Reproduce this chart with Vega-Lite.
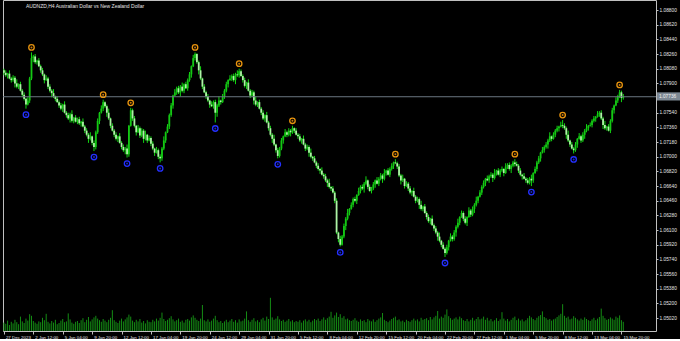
{
"$schema":"https://vega.github.io/schema/vega-lite/v6.json",
"width":653,"height":331,
"padding":{"left":2,"top":0,"right":0,"bottom":0},
"background":"#000000",
"config":{"view":{"stroke":"#c0c0c0","strokeWidth":1},"axis":{"grid":false,"title":null,"domain":false,"tickColor":"#c0c0c0","labelColor":"#e6e6e6","labelFont":"Liberation Sans","labelFontSize":4.8,"tickSize":2,"labelPadding":1,"labelOverlap":false,"labelSeparation":0,"tickCount":60}},
"datasets":{
"bars":[
{"i":0,"o":1.0806,"h":1.0808,"l":1.0800,"c":1.0803,"v":2100},{"i":1,"o":1.0803,"h":1.0806,"l":1.0798,"c":1.0800,"v":1800},{"i":2,"o":1.0800,"h":1.0803,"l":1.0796,"c":1.0802,"v":2600},{"i":3,"o":1.0802,"h":1.0806,"l":1.0795,"c":1.0796,"v":1500},{"i":4,"o":1.0796,"h":1.0798,"l":1.0791,"c":1.0794,"v":2300},{"i":5,"o":1.0794,"h":1.0800,"l":1.0792,"c":1.0797,"v":1900},{"i":6,"o":1.0797,"h":1.0799,"l":1.0785,"c":1.0790,"v":2800},{"i":7,"o":1.0790,"h":1.0795,"l":1.0784,"c":1.0786,"v":2200},{"i":8,"o":1.0786,"h":1.0790,"l":1.0783,"c":1.0789,"v":1700},{"i":9,"o":1.0789,"h":1.0792,"l":1.0780,"c":1.0781,"v":3600},
{"i":10,"o":1.0781,"h":1.0783,"l":1.0773,"c":1.0776,"v":2400},{"i":11,"o":1.0776,"h":1.0779,"l":1.0769,"c":1.0771,"v":2000},{"i":12,"o":1.0771,"h":1.0772,"l":1.0759,"c":1.0764,"v":3100},{"i":13,"o":1.0764,"h":1.0773,"l":1.0763,"c":1.0769,"v":2600},{"i":14,"o":1.0769,"h":1.0798,"l":1.0766,"c":1.0796,"v":4200},{"i":15,"o":1.0796,"h":1.0828,"l":1.0794,"c":1.0821,"v":3800},{"i":16,"o":1.0821,"h":1.0825,"l":1.0816,"c":1.0823,"v":2500},{"i":17,"o":1.0823,"h":1.0826,"l":1.0814,"c":1.0816,"v":2100},{"i":18,"o":1.0816,"h":1.0819,"l":1.0813,"c":1.0818,"v":1800},{"i":19,"o":1.0818,"h":1.0821,"l":1.0810,"c":1.0811,"v":2400},
{"i":20,"o":1.0811,"h":1.0813,"l":1.0803,"c":1.0806,"v":2200},{"i":21,"o":1.0806,"h":1.0809,"l":1.0799,"c":1.0801,"v":3300},{"i":22,"o":1.0801,"h":1.0802,"l":1.0790,"c":1.0794,"v":2700},{"i":23,"o":1.0794,"h":1.0800,"l":1.0793,"c":1.0796,"v":4300},{"i":24,"o":1.0796,"h":1.0798,"l":1.0783,"c":1.0786,"v":2300},{"i":25,"o":1.0786,"h":1.0789,"l":1.0779,"c":1.0781,"v":1900},{"i":26,"o":1.0781,"h":1.0783,"l":1.0773,"c":1.0778,"v":2500},{"i":27,"o":1.0778,"h":1.0783,"l":1.0772,"c":1.0774,"v":2100},{"i":28,"o":1.0774,"h":1.0775,"l":1.0768,"c":1.0771,"v":2800},{"i":29,"o":1.0771,"h":1.0774,"l":1.0766,"c":1.0767,"v":1700},
{"i":30,"o":1.0767,"h":1.0769,"l":1.0760,"c":1.0763,"v":2000},{"i":31,"o":1.0763,"h":1.0766,"l":1.0757,"c":1.0759,"v":2600},{"i":32,"o":1.0759,"h":1.0765,"l":1.0755,"c":1.0764,"v":3000},{"i":33,"o":1.0764,"h":1.0768,"l":1.0753,"c":1.0754,"v":2200},{"i":34,"o":1.0754,"h":1.0756,"l":1.0748,"c":1.0751,"v":2400},{"i":35,"o":1.0751,"h":1.0754,"l":1.0745,"c":1.0747,"v":4400},{"i":36,"o":1.0747,"h":1.0754,"l":1.0742,"c":1.0752,"v":2900},{"i":37,"o":1.0752,"h":1.0757,"l":1.0742,"c":1.0744,"v":2100},{"i":38,"o":1.0744,"h":1.0749,"l":1.0741,"c":1.0748,"v":1800},{"i":39,"o":1.0748,"h":1.0751,"l":1.0742,"c":1.0743,"v":2300},
{"i":40,"o":1.0743,"h":1.0748,"l":1.0740,"c":1.0746,"v":2500},{"i":41,"o":1.0746,"h":1.0749,"l":1.0739,"c":1.0741,"v":2000},{"i":42,"o":1.0741,"h":1.0744,"l":1.0737,"c":1.0743,"v":2700},{"i":43,"o":1.0743,"h":1.0747,"l":1.0736,"c":1.0737,"v":3200},{"i":44,"o":1.0737,"h":1.0739,"l":1.0729,"c":1.0732,"v":2200},{"i":45,"o":1.0732,"h":1.0735,"l":1.0725,"c":1.0727,"v":2800},{"i":46,"o":1.0727,"h":1.0729,"l":1.0717,"c":1.0722,"v":3500},{"i":47,"o":1.0722,"h":1.0730,"l":1.0720,"c":1.0725,"v":2400},{"i":48,"o":1.0725,"h":1.0726,"l":1.0714,"c":1.0717,"v":2900},{"i":49,"o":1.0717,"h":1.0720,"l":1.0707,"c":1.0712,"v":3400},
{"i":50,"o":1.0712,"h":1.0732,"l":1.0709,"c":1.0730,"v":3800},{"i":51,"o":1.0730,"h":1.0747,"l":1.0728,"c":1.0744,"v":3100},{"i":52,"o":1.0744,"h":1.0755,"l":1.0740,"c":1.0754,"v":2700},{"i":53,"o":1.0754,"h":1.0763,"l":1.0753,"c":1.0759,"v":2300},{"i":54,"o":1.0759,"h":1.0770,"l":1.0756,"c":1.0767,"v":3000},{"i":55,"o":1.0767,"h":1.0768,"l":1.0760,"c":1.0762,"v":2600},{"i":56,"o":1.0762,"h":1.0764,"l":1.0749,"c":1.0754,"v":2200},{"i":57,"o":1.0754,"h":1.0759,"l":1.0745,"c":1.0747,"v":2800},{"i":58,"o":1.0747,"h":1.0748,"l":1.0735,"c":1.0738,"v":3300},{"i":59,"o":1.0738,"h":1.0741,"l":1.0731,"c":1.0732,"v":5200},
{"i":60,"o":1.0732,"h":1.0734,"l":1.0724,"c":1.0727,"v":2700},{"i":61,"o":1.0727,"h":1.0730,"l":1.0720,"c":1.0722,"v":2300},{"i":62,"o":1.0722,"h":1.0726,"l":1.0718,"c":1.0725,"v":2000},{"i":63,"o":1.0725,"h":1.0729,"l":1.0716,"c":1.0717,"v":2600},{"i":64,"o":1.0717,"h":1.0719,"l":1.0709,"c":1.0712,"v":3100},{"i":65,"o":1.0712,"h":1.0715,"l":1.0706,"c":1.0708,"v":2400},{"i":66,"o":1.0708,"h":1.0712,"l":1.0703,"c":1.0710,"v":2900},{"i":67,"o":1.0710,"h":1.0715,"l":1.0699,"c":1.0703,"v":3400},{"i":68,"o":1.0703,"h":1.0739,"l":1.0700,"c":1.0738,"v":4100},{"i":69,"o":1.0738,"h":1.0760,"l":1.0737,"c":1.0757,"v":3600},
{"i":70,"o":1.0757,"h":1.0759,"l":1.0744,"c":1.0747,"v":2600},{"i":71,"o":1.0747,"h":1.0750,"l":1.0736,"c":1.0738,"v":2200},{"i":72,"o":1.0738,"h":1.0739,"l":1.0726,"c":1.0730,"v":2800},{"i":73,"o":1.0730,"h":1.0739,"l":1.0729,"c":1.0735,"v":2400},{"i":74,"o":1.0735,"h":1.0737,"l":1.0723,"c":1.0726,"v":3000},{"i":75,"o":1.0726,"h":1.0735,"l":1.0724,"c":1.0732,"v":2100},{"i":76,"o":1.0732,"h":1.0734,"l":1.0717,"c":1.0722,"v":2500},{"i":77,"o":1.0722,"h":1.0732,"l":1.0720,"c":1.0727,"v":1900},{"i":78,"o":1.0727,"h":1.0728,"l":1.0717,"c":1.0720,"v":2700},{"i":79,"o":1.0720,"h":1.0726,"l":1.0719,"c":1.0723,"v":2300},
{"i":80,"o":1.0723,"h":1.0725,"l":1.0713,"c":1.0716,"v":2200},{"i":81,"o":1.0716,"h":1.0719,"l":1.0708,"c":1.0710,"v":2800},{"i":82,"o":1.0710,"h":1.0711,"l":1.0701,"c":1.0705,"v":2400},{"i":83,"o":1.0705,"h":1.0712,"l":1.0704,"c":1.0708,"v":3100},{"i":84,"o":1.0708,"h":1.0710,"l":1.0697,"c":1.0700,"v":2600},{"i":85,"o":1.0700,"h":1.0703,"l":1.0693,"c":1.0698,"v":3300},{"i":86,"o":1.0698,"h":1.0712,"l":1.0695,"c":1.0710,"v":4600},{"i":87,"o":1.0710,"h":1.0725,"l":1.0708,"c":1.0720,"v":3000},{"i":88,"o":1.0720,"h":1.0731,"l":1.0717,"c":1.0730,"v":2500},{"i":89,"o":1.0730,"h":1.0740,"l":1.0729,"c":1.0737,"v":2800},
{"i":90,"o":1.0737,"h":1.0753,"l":1.0734,"c":1.0751,"v":3200},{"i":91,"o":1.0751,"h":1.0766,"l":1.0749,"c":1.0763,"v":3700},{"i":92,"o":1.0763,"h":1.0776,"l":1.0759,"c":1.0775,"v":2900},{"i":93,"o":1.0775,"h":1.0783,"l":1.0774,"c":1.0779,"v":2400},{"i":94,"o":1.0779,"h":1.0786,"l":1.0776,"c":1.0784,"v":2700},{"i":95,"o":1.0784,"h":1.0787,"l":1.0777,"c":1.0779,"v":3100},{"i":96,"o":1.0779,"h":1.0788,"l":1.0774,"c":1.0786,"v":2300},{"i":97,"o":1.0786,"h":1.0791,"l":1.0779,"c":1.0781,"v":2600},{"i":98,"o":1.0781,"h":1.0790,"l":1.0778,"c":1.0789,"v":2100},{"i":99,"o":1.0789,"h":1.0792,"l":1.0783,"c":1.0784,"v":2800},
{"i":100,"o":1.0784,"h":1.0796,"l":1.0781,"c":1.0794,"v":3000},{"i":101,"o":1.0794,"h":1.0804,"l":1.0792,"c":1.0801,"v":2600},{"i":102,"o":1.0801,"h":1.0812,"l":1.0797,"c":1.0811,"v":3400},{"i":103,"o":1.0811,"h":1.0825,"l":1.0810,"c":1.0821,"v":3900},{"i":104,"o":1.0821,"h":1.0828,"l":1.0818,"c":1.0826,"v":3300},{"i":105,"o":1.0826,"h":1.0827,"l":1.0814,"c":1.0816,"v":2800},{"i":106,"o":1.0816,"h":1.0818,"l":1.0801,"c":1.0806,"v":2500},{"i":107,"o":1.0806,"h":1.0811,"l":1.0794,"c":1.0796,"v":3100},{"i":108,"o":1.0796,"h":1.0797,"l":1.0783,"c":1.0786,"v":6500},{"i":109,"o":1.0786,"h":1.0789,"l":1.0778,"c":1.0779,"v":2700},
{"i":110,"o":1.0779,"h":1.0781,"l":1.0771,"c":1.0774,"v":2400},{"i":111,"o":1.0774,"h":1.0777,"l":1.0767,"c":1.0769,"v":2900},{"i":112,"o":1.0769,"h":1.0770,"l":1.0760,"c":1.0764,"v":2300},{"i":113,"o":1.0764,"h":1.0768,"l":1.0761,"c":1.0762,"v":2600},{"i":114,"o":1.0762,"h":1.0769,"l":1.0759,"c":1.0767,"v":3100},{"i":115,"o":1.0767,"h":1.0770,"l":1.0742,"c":1.0754,"v":3800},{"i":116,"o":1.0754,"h":1.0765,"l":1.0749,"c":1.0763,"v":2700},{"i":117,"o":1.0763,"h":1.0774,"l":1.0761,"c":1.0769,"v":2200},{"i":118,"o":1.0769,"h":1.0770,"l":1.0764,"c":1.0767,"v":2500},{"i":119,"o":1.0767,"h":1.0777,"l":1.0766,"c":1.0774,"v":2000},
{"i":120,"o":1.0774,"h":1.0783,"l":1.0771,"c":1.0781,"v":2400},{"i":121,"o":1.0781,"h":1.0792,"l":1.0779,"c":1.0789,"v":2800},{"i":122,"o":1.0789,"h":1.0795,"l":1.0785,"c":1.0794,"v":2200},{"i":123,"o":1.0794,"h":1.0800,"l":1.0793,"c":1.0796,"v":2600},{"i":124,"o":1.0796,"h":1.0801,"l":1.0793,"c":1.0799,"v":3000},{"i":125,"o":1.0799,"h":1.0802,"l":1.0792,"c":1.0794,"v":2300},{"i":126,"o":1.0794,"h":1.0803,"l":1.0789,"c":1.0801,"v":2700},{"i":127,"o":1.0801,"h":1.0806,"l":1.0798,"c":1.0800,"v":2100},{"i":128,"o":1.0800,"h":1.0808,"l":1.0797,"c":1.0805,"v":2900},{"i":129,"o":1.0805,"h":1.0807,"l":1.0798,"c":1.0799,"v":2400},
{"i":130,"o":1.0799,"h":1.0801,"l":1.0791,"c":1.0794,"v":2600},{"i":131,"o":1.0794,"h":1.0797,"l":1.0785,"c":1.0787,"v":3100},{"i":132,"o":1.0787,"h":1.0792,"l":1.0783,"c":1.0791,"v":4900},{"i":133,"o":1.0791,"h":1.0795,"l":1.0780,"c":1.0781,"v":2700},{"i":134,"o":1.0781,"h":1.0783,"l":1.0772,"c":1.0775,"v":2300},{"i":135,"o":1.0775,"h":1.0782,"l":1.0773,"c":1.0779,"v":2800},{"i":136,"o":1.0779,"h":1.0781,"l":1.0764,"c":1.0769,"v":3200},{"i":137,"o":1.0769,"h":1.0774,"l":1.0762,"c":1.0764,"v":2400},{"i":138,"o":1.0764,"h":1.0768,"l":1.0761,"c":1.0767,"v":2700},{"i":139,"o":1.0767,"h":1.0770,"l":1.0758,"c":1.0759,"v":2200},
{"i":140,"o":1.0759,"h":1.0761,"l":1.0751,"c":1.0754,"v":2900},{"i":141,"o":1.0754,"h":1.0757,"l":1.0745,"c":1.0747,"v":3300},{"i":142,"o":1.0747,"h":1.0752,"l":1.0743,"c":1.0751,"v":2600},{"i":143,"o":1.0751,"h":1.0755,"l":1.0741,"c":1.0742,"v":3600},{"i":144,"o":1.0742,"h":1.0744,"l":1.0732,"c":1.0735,"v":3000},{"i":145,"o":1.0735,"h":1.0738,"l":1.0725,"c":1.0727,"v":8300},{"i":146,"o":1.0727,"h":1.0729,"l":1.0717,"c":1.0722,"v":3400},{"i":147,"o":1.0722,"h":1.0727,"l":1.0713,"c":1.0715,"v":2800},{"i":148,"o":1.0715,"h":1.0716,"l":1.0705,"c":1.0708,"v":3100},{"i":149,"o":1.0708,"h":1.0711,"l":1.0698,"c":1.0701,"v":3700},
{"i":150,"o":1.0701,"h":1.0712,"l":1.0699,"c":1.0710,"v":2900},{"i":151,"o":1.0710,"h":1.0723,"l":1.0708,"c":1.0720,"v":2500},{"i":152,"o":1.0720,"h":1.0726,"l":1.0716,"c":1.0725,"v":2800},{"i":153,"o":1.0725,"h":1.0734,"l":1.0724,"c":1.0730,"v":2300},{"i":154,"o":1.0730,"h":1.0732,"l":1.0724,"c":1.0727,"v":2600},{"i":155,"o":1.0727,"h":1.0735,"l":1.0725,"c":1.0732,"v":3000},{"i":156,"o":1.0732,"h":1.0734,"l":1.0725,"c":1.0730,"v":2400},{"i":157,"o":1.0730,"h":1.0738,"l":1.0728,"c":1.0735,"v":2700},{"i":158,"o":1.0735,"h":1.0736,"l":1.0729,"c":1.0732,"v":2200},{"i":159,"o":1.0732,"h":1.0735,"l":1.0726,"c":1.0727,"v":2500},
{"i":160,"o":1.0727,"h":1.0729,"l":1.0722,"c":1.0725,"v":2300},{"i":161,"o":1.0725,"h":1.0728,"l":1.0718,"c":1.0720,"v":2700},{"i":162,"o":1.0720,"h":1.0723,"l":1.0716,"c":1.0722,"v":2100},{"i":163,"o":1.0722,"h":1.0726,"l":1.0714,"c":1.0715,"v":2600},{"i":164,"o":1.0715,"h":1.0717,"l":1.0707,"c":1.0710,"v":2900},{"i":165,"o":1.0710,"h":1.0715,"l":1.0708,"c":1.0712,"v":2400},{"i":166,"o":1.0712,"h":1.0714,"l":1.0700,"c":1.0705,"v":2800},{"i":167,"o":1.0705,"h":1.0710,"l":1.0698,"c":1.0700,"v":2200},{"i":168,"o":1.0700,"h":1.0701,"l":1.0695,"c":1.0698,"v":2600},{"i":169,"o":1.0698,"h":1.0701,"l":1.0692,"c":1.0693,"v":3000},
{"i":170,"o":1.0693,"h":1.0695,"l":1.0686,"c":1.0689,"v":2700},{"i":171,"o":1.0689,"h":1.0692,"l":1.0683,"c":1.0685,"v":3100},{"i":172,"o":1.0685,"h":1.0686,"l":1.0679,"c":1.0683,"v":2500},{"i":173,"o":1.0683,"h":1.0687,"l":1.0677,"c":1.0678,"v":2900},{"i":174,"o":1.0678,"h":1.0680,"l":1.0673,"c":1.0676,"v":3400},{"i":175,"o":1.0676,"h":1.0679,"l":1.0669,"c":1.0671,"v":2800},{"i":176,"o":1.0671,"h":1.0673,"l":1.0663,"c":1.0668,"v":3200},{"i":177,"o":1.0668,"h":1.0673,"l":1.0661,"c":1.0663,"v":3600},{"i":178,"o":1.0663,"h":1.0664,"l":1.0658,"c":1.0661,"v":4800},{"i":179,"o":1.0661,"h":1.0664,"l":1.0655,"c":1.0656,"v":3300},
{"i":180,"o":1.0656,"h":1.0658,"l":1.0643,"c":1.0646,"v":3900},{"i":181,"o":1.0646,"h":1.0649,"l":1.0605,"c":1.0607,"v":4600},{"i":182,"o":1.0607,"h":1.0608,"l":1.0595,"c":1.0599,"v":3500},{"i":183,"o":1.0599,"h":1.0603,"l":1.0590,"c":1.0592,"v":4200},{"i":184,"o":1.0592,"h":1.0604,"l":1.0591,"c":1.0602,"v":3300},{"i":185,"o":1.0602,"h":1.0618,"l":1.0600,"c":1.0615,"v":3700},{"i":186,"o":1.0615,"h":1.0626,"l":1.0610,"c":1.0624,"v":2900},{"i":187,"o":1.0624,"h":1.0636,"l":1.0622,"c":1.0631,"v":3100},{"i":188,"o":1.0631,"h":1.0637,"l":1.0628,"c":1.0636,"v":2700},{"i":189,"o":1.0636,"h":1.0644,"l":1.0635,"c":1.0641,"v":2500},
{"i":190,"o":1.0641,"h":1.0650,"l":1.0638,"c":1.0648,"v":2800},{"i":191,"o":1.0648,"h":1.0651,"l":1.0644,"c":1.0646,"v":3200},{"i":192,"o":1.0646,"h":1.0654,"l":1.0642,"c":1.0653,"v":2600},{"i":193,"o":1.0653,"h":1.0662,"l":1.0652,"c":1.0658,"v":2300},{"i":194,"o":1.0658,"h":1.0665,"l":1.0655,"c":1.0663,"v":2900},{"i":195,"o":1.0663,"h":1.0666,"l":1.0659,"c":1.0661,"v":2500},{"i":196,"o":1.0661,"h":1.0669,"l":1.0656,"c":1.0667,"v":2700},{"i":197,"o":1.0667,"h":1.0676,"l":1.0665,"c":1.0671,"v":2200},{"i":198,"o":1.0671,"h":1.0672,"l":1.0660,"c":1.0663,"v":3000},{"i":199,"o":1.0663,"h":1.0666,"l":1.0657,"c":1.0658,"v":2600},
{"i":200,"o":1.0658,"h":1.0663,"l":1.0655,"c":1.0661,"v":2400},{"i":201,"o":1.0661,"h":1.0669,"l":1.0659,"c":1.0666,"v":2900},{"i":202,"o":1.0666,"h":1.0672,"l":1.0662,"c":1.0671,"v":2300},{"i":203,"o":1.0671,"h":1.0675,"l":1.0666,"c":1.0667,"v":2700},{"i":204,"o":1.0667,"h":1.0675,"l":1.0664,"c":1.0673,"v":3100},{"i":205,"o":1.0673,"h":1.0680,"l":1.0671,"c":1.0677,"v":3400},{"i":206,"o":1.0677,"h":1.0679,"l":1.0668,"c":1.0673,"v":4500},{"i":207,"o":1.0673,"h":1.0685,"l":1.0671,"c":1.0680,"v":2800},{"i":208,"o":1.0680,"h":1.0684,"l":1.0677,"c":1.0683,"v":2500},{"i":209,"o":1.0683,"h":1.0686,"l":1.0677,"c":1.0678,"v":2200},
{"i":210,"o":1.0678,"h":1.0687,"l":1.0675,"c":1.0685,"v":2600},{"i":211,"o":1.0685,"h":1.0692,"l":1.0683,"c":1.0689,"v":3000},{"i":212,"o":1.0689,"h":1.0694,"l":1.0685,"c":1.0693,"v":3300},{"i":213,"o":1.0693,"h":1.0697,"l":1.0691,"c":1.0692,"v":3600},{"i":214,"o":1.0692,"h":1.0694,"l":1.0685,"c":1.0688,"v":2700},{"i":215,"o":1.0688,"h":1.0691,"l":1.0675,"c":1.0677,"v":2900},{"i":216,"o":1.0677,"h":1.0679,"l":1.0666,"c":1.0671,"v":2400},{"i":217,"o":1.0671,"h":1.0678,"l":1.0669,"c":1.0673,"v":2600},{"i":218,"o":1.0673,"h":1.0674,"l":1.0661,"c":1.0664,"v":2200},{"i":219,"o":1.0664,"h":1.0670,"l":1.0663,"c":1.0667,"v":2800},
{"i":220,"o":1.0667,"h":1.0669,"l":1.0658,"c":1.0661,"v":2500},{"i":221,"o":1.0661,"h":1.0664,"l":1.0654,"c":1.0656,"v":2300},{"i":222,"o":1.0656,"h":1.0659,"l":1.0652,"c":1.0658,"v":2700},{"i":223,"o":1.0658,"h":1.0662,"l":1.0650,"c":1.0651,"v":3100},{"i":224,"o":1.0651,"h":1.0653,"l":1.0643,"c":1.0646,"v":2600},{"i":225,"o":1.0646,"h":1.0651,"l":1.0644,"c":1.0648,"v":2900},{"i":226,"o":1.0648,"h":1.0650,"l":1.0636,"c":1.0641,"v":2400},{"i":227,"o":1.0641,"h":1.0646,"l":1.0634,"c":1.0636,"v":3300},{"i":228,"o":1.0636,"h":1.0640,"l":1.0633,"c":1.0639,"v":2800},{"i":229,"o":1.0639,"h":1.0642,"l":1.0630,"c":1.0631,"v":3000},
{"i":230,"o":1.0631,"h":1.0633,"l":1.0623,"c":1.0626,"v":3200},{"i":231,"o":1.0626,"h":1.0629,"l":1.0619,"c":1.0621,"v":2700},{"i":232,"o":1.0621,"h":1.0625,"l":1.0617,"c":1.0624,"v":3500},{"i":233,"o":1.0624,"h":1.0628,"l":1.0615,"c":1.0616,"v":2900},{"i":234,"o":1.0616,"h":1.0618,"l":1.0609,"c":1.0612,"v":3400},{"i":235,"o":1.0612,"h":1.0615,"l":1.0605,"c":1.0607,"v":3800},{"i":236,"o":1.0607,"h":1.0609,"l":1.0597,"c":1.0602,"v":5000},{"i":237,"o":1.0602,"h":1.0607,"l":1.0595,"c":1.0597,"v":3100},{"i":238,"o":1.0597,"h":1.0598,"l":1.0589,"c":1.0592,"v":3600},{"i":239,"o":1.0592,"h":1.0595,"l":1.0586,"c":1.0587,"v":3300},
{"i":240,"o":1.0587,"h":1.0589,"l":1.0577,"c":1.0582,"v":4100},{"i":241,"o":1.0582,"h":1.0592,"l":1.0580,"c":1.0589,"v":5400},{"i":242,"o":1.0589,"h":1.0598,"l":1.0585,"c":1.0597,"v":3700},{"i":243,"o":1.0597,"h":1.0606,"l":1.0596,"c":1.0602,"v":3200},{"i":244,"o":1.0602,"h":1.0604,"l":1.0596,"c":1.0599,"v":2800},{"i":245,"o":1.0599,"h":1.0610,"l":1.0597,"c":1.0607,"v":3100},{"i":246,"o":1.0607,"h":1.0616,"l":1.0602,"c":1.0614,"v":3400},{"i":247,"o":1.0614,"h":1.0624,"l":1.0612,"c":1.0619,"v":2900},{"i":248,"o":1.0619,"h":1.0627,"l":1.0616,"c":1.0626,"v":3600},{"i":249,"o":1.0626,"h":1.0634,"l":1.0625,"c":1.0631,"v":3200},
{"i":250,"o":1.0631,"h":1.0633,"l":1.0621,"c":1.0624,"v":2700},{"i":251,"o":1.0624,"h":1.0627,"l":1.0617,"c":1.0619,"v":2500},{"i":252,"o":1.0619,"h":1.0627,"l":1.0615,"c":1.0626,"v":3000},{"i":253,"o":1.0626,"h":1.0638,"l":1.0625,"c":1.0634,"v":2400},{"i":254,"o":1.0634,"h":1.0636,"l":1.0626,"c":1.0629,"v":2800},{"i":255,"o":1.0629,"h":1.0639,"l":1.0627,"c":1.0636,"v":3300},{"i":256,"o":1.0636,"h":1.0643,"l":1.0631,"c":1.0641,"v":2600},{"i":257,"o":1.0641,"h":1.0651,"l":1.0639,"c":1.0646,"v":3000},{"i":258,"o":1.0646,"h":1.0652,"l":1.0643,"c":1.0651,"v":3500},{"i":259,"o":1.0651,"h":1.0659,"l":1.0650,"c":1.0656,"v":2900},
{"i":260,"o":1.0656,"h":1.0665,"l":1.0653,"c":1.0663,"v":3100},{"i":261,"o":1.0663,"h":1.0671,"l":1.0661,"c":1.0668,"v":3600},{"i":262,"o":1.0668,"h":1.0674,"l":1.0664,"c":1.0673,"v":2800},{"i":263,"o":1.0673,"h":1.0677,"l":1.0670,"c":1.0671,"v":3300},{"i":264,"o":1.0671,"h":1.0678,"l":1.0668,"c":1.0676,"v":2600},{"i":265,"o":1.0676,"h":1.0681,"l":1.0674,"c":1.0678,"v":3000},{"i":266,"o":1.0678,"h":1.0680,"l":1.0669,"c":1.0674,"v":2400},{"i":267,"o":1.0674,"h":1.0685,"l":1.0672,"c":1.0680,"v":2700},{"i":268,"o":1.0680,"h":1.0684,"l":1.0677,"c":1.0683,"v":3200},{"i":269,"o":1.0683,"h":1.0686,"l":1.0677,"c":1.0678,"v":2500},
{"i":270,"o":1.0678,"h":1.0685,"l":1.0675,"c":1.0683,"v":2900},{"i":271,"o":1.0683,"h":1.0688,"l":1.0681,"c":1.0685,"v":4700},{"i":272,"o":1.0685,"h":1.0686,"l":1.0676,"c":1.0680,"v":3100},{"i":273,"o":1.0680,"h":1.0692,"l":1.0679,"c":1.0688,"v":2600},{"i":274,"o":1.0688,"h":1.0692,"l":1.0685,"c":1.0690,"v":3000},{"i":275,"o":1.0690,"h":1.0693,"l":1.0683,"c":1.0685,"v":2400},{"i":276,"o":1.0685,"h":1.0691,"l":1.0680,"c":1.0689,"v":2800},{"i":277,"o":1.0689,"h":1.0695,"l":1.0687,"c":1.0693,"v":3300},{"i":278,"o":1.0693,"h":1.0697,"l":1.0688,"c":1.0691,"v":3600},{"i":279,"o":1.0691,"h":1.0694,"l":1.0688,"c":1.0689,"v":2700},
{"i":280,"o":1.0689,"h":1.0691,"l":1.0680,"c":1.0683,"v":3100},{"i":281,"o":1.0683,"h":1.0686,"l":1.0676,"c":1.0678,"v":2600},{"i":282,"o":1.0678,"h":1.0679,"l":1.0672,"c":1.0676,"v":2900},{"i":283,"o":1.0676,"h":1.0680,"l":1.0672,"c":1.0673,"v":2400},{"i":284,"o":1.0673,"h":1.0675,"l":1.0668,"c":1.0671,"v":2700},{"i":285,"o":1.0671,"h":1.0674,"l":1.0666,"c":1.0668,"v":3200},{"i":286,"o":1.0668,"h":1.0675,"l":1.0666,"c":1.0673,"v":3800},{"i":287,"o":1.0673,"h":1.0678,"l":1.0664,"c":1.0671,"v":3400},{"i":288,"o":1.0671,"h":1.0681,"l":1.0668,"c":1.0680,"v":3000},{"i":289,"o":1.0680,"h":1.0688,"l":1.0679,"c":1.0685,"v":2700},
{"i":290,"o":1.0685,"h":1.0695,"l":1.0682,"c":1.0693,"v":3300},{"i":291,"o":1.0693,"h":1.0701,"l":1.0691,"c":1.0698,"v":3700},{"i":292,"o":1.0698,"h":1.0706,"l":1.0694,"c":1.0705,"v":4000},{"i":293,"o":1.0705,"h":1.0712,"l":1.0704,"c":1.0708,"v":4900},{"i":294,"o":1.0708,"h":1.0714,"l":1.0705,"c":1.0712,"v":3500},{"i":295,"o":1.0712,"h":1.0718,"l":1.0710,"c":1.0715,"v":3200},{"i":296,"o":1.0715,"h":1.0722,"l":1.0710,"c":1.0720,"v":2800},{"i":297,"o":1.0720,"h":1.0730,"l":1.0718,"c":1.0725,"v":3000},{"i":298,"o":1.0725,"h":1.0726,"l":1.0719,"c":1.0722,"v":2600},{"i":299,"o":1.0722,"h":1.0730,"l":1.0721,"c":1.0727,"v":2900},
{"i":300,"o":1.0727,"h":1.0734,"l":1.0724,"c":1.0732,"v":3100},{"i":301,"o":1.0732,"h":1.0738,"l":1.0730,"c":1.0735,"v":3500},{"i":302,"o":1.0735,"h":1.0738,"l":1.0731,"c":1.0737,"v":3900},{"i":303,"o":1.0737,"h":1.0743,"l":1.0736,"c":1.0739,"v":4300},{"i":304,"o":1.0739,"h":1.0745,"l":1.0735,"c":1.0738,"v":6700},{"i":305,"o":1.0738,"h":1.0741,"l":1.0733,"c":1.0735,"v":3800},{"i":306,"o":1.0735,"h":1.0737,"l":1.0722,"c":1.0727,"v":3300},{"i":307,"o":1.0727,"h":1.0732,"l":1.0718,"c":1.0720,"v":3600},{"i":308,"o":1.0720,"h":1.0721,"l":1.0712,"c":1.0715,"v":2900},{"i":309,"o":1.0715,"h":1.0718,"l":1.0709,"c":1.0710,"v":3100},
{"i":310,"o":1.0710,"h":1.0712,"l":1.0704,"c":1.0708,"v":3700},{"i":311,"o":1.0708,"h":1.0718,"l":1.0706,"c":1.0715,"v":3300},{"i":312,"o":1.0715,"h":1.0723,"l":1.0711,"c":1.0722,"v":2900},{"i":313,"o":1.0722,"h":1.0729,"l":1.0721,"c":1.0725,"v":2600},{"i":314,"o":1.0725,"h":1.0727,"l":1.0717,"c":1.0720,"v":3100},{"i":315,"o":1.0720,"h":1.0730,"l":1.0718,"c":1.0727,"v":2800},{"i":316,"o":1.0727,"h":1.0734,"l":1.0722,"c":1.0732,"v":3400},{"i":317,"o":1.0732,"h":1.0740,"l":1.0730,"c":1.0735,"v":3000},{"i":318,"o":1.0735,"h":1.0739,"l":1.0732,"c":1.0738,"v":2700},{"i":319,"o":1.0738,"h":1.0742,"l":1.0737,"c":1.0739,"v":2500},
{"i":320,"o":1.0739,"h":1.0746,"l":1.0736,"c":1.0744,"v":2900},{"i":321,"o":1.0744,"h":1.0750,"l":1.0742,"c":1.0747,"v":3300},{"i":322,"o":1.0747,"h":1.0750,"l":1.0743,"c":1.0749,"v":2700},{"i":323,"o":1.0749,"h":1.0756,"l":1.0748,"c":1.0752,"v":3100},{"i":324,"o":1.0752,"h":1.0756,"l":1.0749,"c":1.0754,"v":3500},{"i":325,"o":1.0754,"h":1.0757,"l":1.0745,"c":1.0747,"v":5600},{"i":326,"o":1.0747,"h":1.0749,"l":1.0734,"c":1.0739,"v":3800},{"i":327,"o":1.0739,"h":1.0744,"l":1.0733,"c":1.0735,"v":3200},{"i":328,"o":1.0735,"h":1.0738,"l":1.0732,"c":1.0737,"v":2800},{"i":329,"o":1.0737,"h":1.0740,"l":1.0731,"c":1.0732,"v":3000},
{"i":330,"o":1.0732,"h":1.0746,"l":1.0729,"c":1.0744,"v":3400},{"i":331,"o":1.0744,"h":1.0760,"l":1.0742,"c":1.0757,"v":3100},{"i":332,"o":1.0757,"h":1.0764,"l":1.0753,"c":1.0763,"v":2800},{"i":333,"o":1.0763,"h":1.0773,"l":1.0762,"c":1.0769,"v":3600},{"i":334,"o":1.0769,"h":1.0776,"l":1.0766,"c":1.0774,"v":3300},{"i":335,"o":1.0774,"h":1.0782,"l":1.0772,"c":1.0779,"v":3900},{"i":336,"o":1.0779,"h":1.0781,"l":1.0767,"c":1.0772,"v":2700},{"i":337,"o":1.0772,"h":1.0777,"l":1.0770,"c":1.0774,"v":2300}
],
"fracHigh":[{"i":15,"p":1.0828},{"i":54,"p":1.0770},{"i":69,"p":1.0760},{"i":104,"p":1.0828},{"i":128,"p":1.0808},{"i":157,"p":1.0738},{"i":213,"p":1.0697},{"i":278,"p":1.0697},{"i":304,"p":1.0745},{"i":335,"p":1.0782}],
"fracLow":[{"i":12,"p":1.0759},{"i":49,"p":1.0707},{"i":67,"p":1.0699},{"i":85,"p":1.0693},{"i":115,"p":1.0742},{"i":149,"p":1.0698},{"i":183,"p":1.0590},{"i":240,"p":1.0577},{"i":287,"p":1.0664},{"i":310,"p":1.0704}],
"bid":[{"p":1.07736,"label":"1.07736"}],
"info":[{"title":"AUDNZD,H4  Australian Dollar vs New Zealand Dollar"}]
},
"layer":[
{"data":{"name":"bars"},"mark":{"type":"rule","color":"#148c14","strokeWidth":1},
 "encoding":{
  "x":{"field":"i","type":"quantitative","scale":{"domain":[-0.5,354.8],"nice":false,"zero":false},
   "axis":{"values":[0,16,32,48,64,80,96,112,128,144,160,176,192,208,224,240,256,272,288,304,320,336],"tickCount":60,
    "labelExpr":"['27 Dec 2023','2 Jan 12:00','5 Jan 04:00','9 Jan 20:00','12 Jan 12:00','17 Jan 04:00','19 Jan 20:00','24 Jan 12:00','29 Jan 04:00','31 Jan 20:00','5 Feb 12:00','8 Feb 04:00','12 Feb 20:00','15 Feb 12:00','20 Feb 04:00','22 Feb 20:00','27 Feb 12:00','1 Mar 04:00','5 Mar 20:00','8 Mar 12:00','13 Mar 04:00','15 Mar 20:00'][round(datum.value/16)]",
    "labelAlign":"left","labelBaseline":"top","labelOffset":1.5,"labelFontSize":4.4,"labelOverlap":false,"labelFlush":false,"labelBound":false,"tickSize":3}},
  "y":{"field":"v","type":"quantitative","scale":{"domain":[0,82750],"nice":false,"zero":true},"axis":null},
  "y2":{"datum":0}}},
{"layer":[
 {"data":{"name":"bars"},"mark":{"type":"rule","color":"#12d812","strokeWidth":1},
  "encoding":{"x":{"field":"i","type":"quantitative"},
   "y":{"field":"l","type":"quantitative","scale":{"domain":[1.04862,1.08923],"nice":false,"zero":false},
    "axis":{"orient":"right","values":[1.088,1.0862,1.0844,1.0826,1.0808,1.079,1.0754,1.0736,1.0718,1.07,1.0682,1.0664,1.0646,1.0628,1.061,1.0592,1.0574,1.0556,1.0538,1.052,1.0502],"tickCount":60,"format":".5f","labelAlign":"left","labelBaseline":"middle","labelOverlap":false}},
   "y2":{"field":"h"}}},
 {"data":{"name":"bars"},"mark":{"type":"rule","strokeWidth":1.8},
  "encoding":{"x":{"field":"i","type":"quantitative"},"y":{"field":"o","type":"quantitative"},"y2":{"field":"c"},
   "color":{"condition":{"test":"datum.c >= datum.o","value":"#14c814"},"value":"#aef2a6"}}},
 {"data":{"name":"bid"},"mark":{"type":"rule","color":"#6b7681","strokeWidth":1},
  "encoding":{"y":{"field":"p","type":"quantitative"}}},
 {"data":{"name":"bid"},"mark":{"type":"rect","color":"#7d8893"},
  "encoding":{"x":{"datum":355.3},"x2":{"datum":368.6},"y":{"datum":1.0779},"y2":{"datum":1.0769}}},
 {"data":{"name":"bid"},"mark":{"type":"text","align":"left","baseline":"middle","dx":2,"font":"Liberation Sans","fontSize":4.8,"color":"#f2f2f2"},
  "encoding":{"x":{"datum":355.3},"y":{"field":"p","type":"quantitative"},"text":{"field":"label"}}},
 {"data":{"name":"fracHigh"},"mark":{"type":"point","shape":"circle","filled":false,"stroke":"#e8940e","strokeWidth":1.3,"size":30,"yOffset":-5,"opacity":1},
  "encoding":{"x":{"field":"i","type":"quantitative"},"y":{"field":"p","type":"quantitative"}}},
 {"data":{"name":"fracHigh"},"mark":{"type":"point","shape":"circle","filled":true,"color":"#c8780a","size":4,"yOffset":-5,"opacity":1},
  "encoding":{"x":{"field":"i","type":"quantitative"},"y":{"field":"p","type":"quantitative"}}},
 {"data":{"name":"fracLow"},"mark":{"type":"point","shape":"circle","filled":false,"stroke":"#2430ff","strokeWidth":1.3,"size":30,"yOffset":6,"opacity":1},
  "encoding":{"x":{"field":"i","type":"quantitative"},"y":{"field":"p","type":"quantitative"}}},
 {"data":{"name":"fracLow"},"mark":{"type":"point","shape":"circle","filled":true,"color":"#1a24c8","size":4,"yOffset":6,"opacity":1},
  "encoding":{"x":{"field":"i","type":"quantitative"},"y":{"field":"p","type":"quantitative"}}},
 {"data":{"name":"info"},"mark":{"type":"text","align":"left","baseline":"middle","dx":23,"dy":6,"font":"Liberation Sans","fontSize":5,"color":"#e6e6e6"},
  "encoding":{"x":{"datum":-0.5},"y":{"datum":1.08923},"text":{"field":"title"}}}
]}
],
"resolve":{"scale":{"y":"independent"}}
}
